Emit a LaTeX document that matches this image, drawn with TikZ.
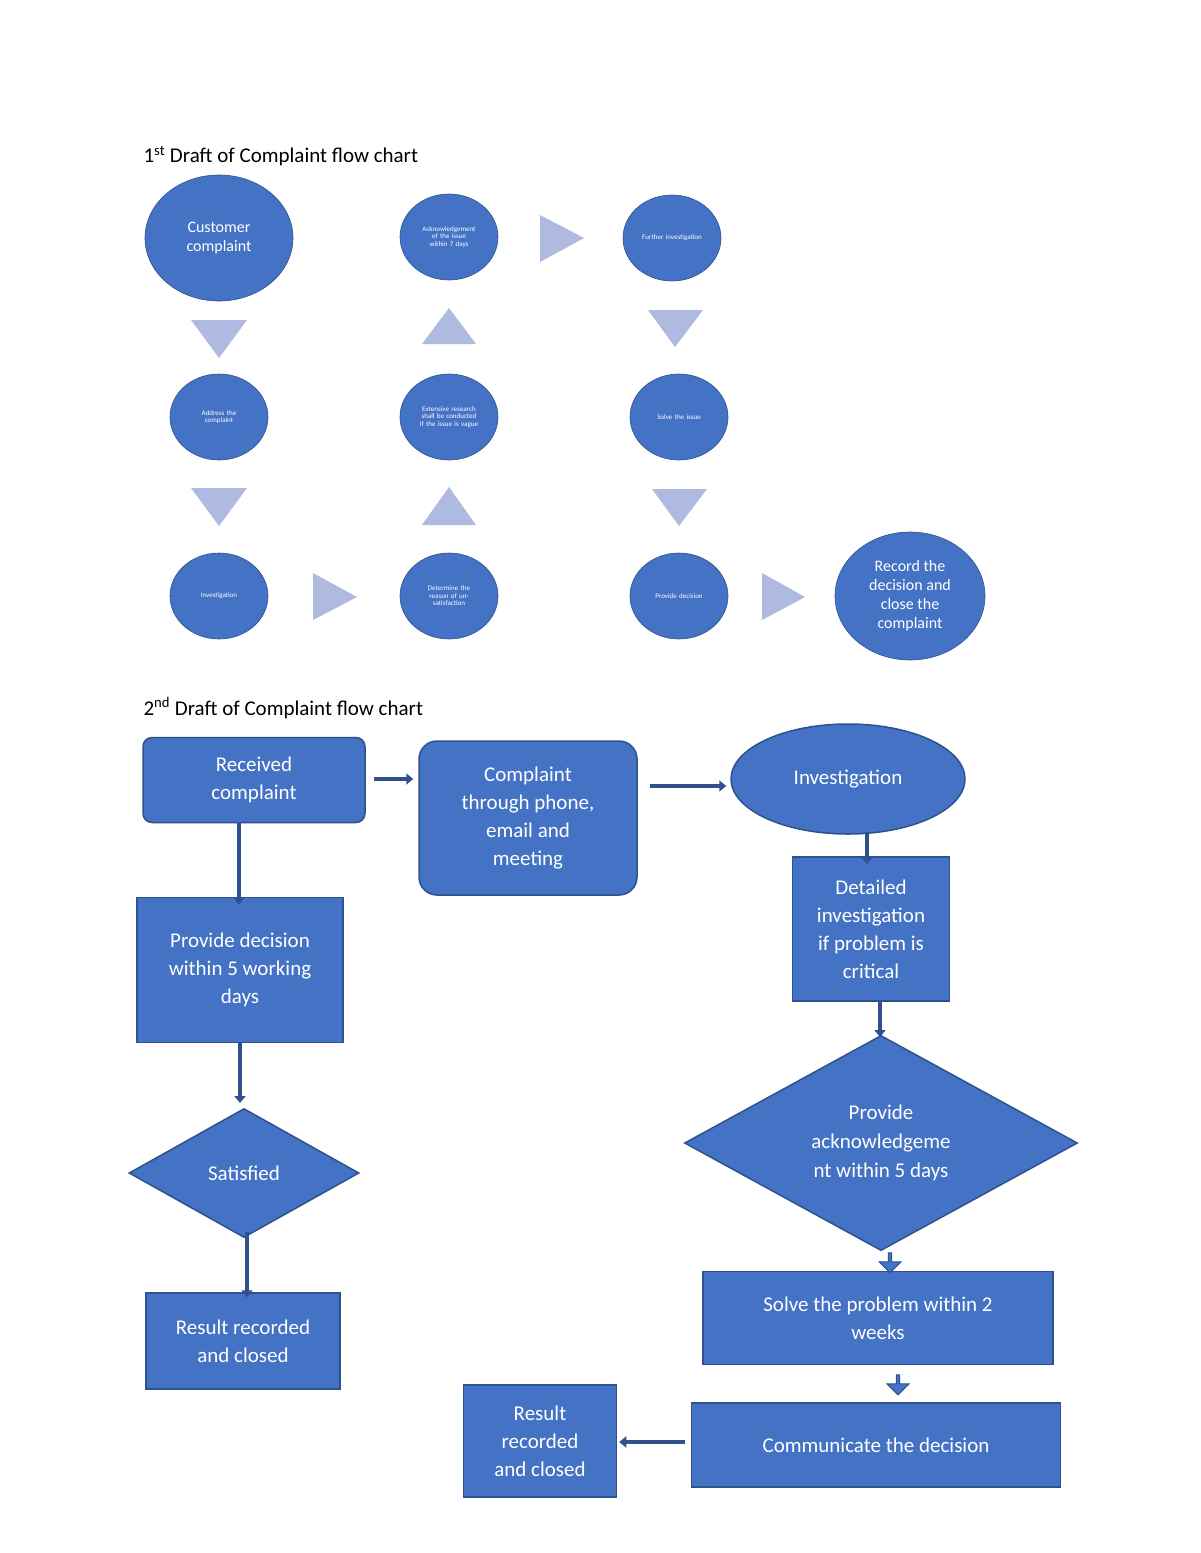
\documentclass[tikz,border=0pt]{standalone}
\usepackage{fontspec}
\setmainfont{Carlito}
\usetikzlibrary{shapes.geometric,shapes.arrows,arrows.meta}
\definecolor{fillb}{HTML}{4472C4}
\definecolor{edgeb}{HTML}{2F528F}
\definecolor{tri}{HTML}{AEBADF}
\begin{document}
\begin{tikzpicture}[x=1pt,y=-1pt,
 ell/.style={ellipse,fill=fillb,draw=edgeb,line width=0.6pt,text=white,align=center,inner sep=0pt},
 sm/.style={ell,minimum width=98pt,minimum height=86pt,font=\fontsize{7}{7.5}\selectfont,text width=60pt},
 box/.style={rectangle,fill=fillb,draw=edgeb,line width=1.5pt,text=white,align=center,font=\fontsize{21}{28}\selectfont},
 dia/.style={diamond,fill=fillb,draw=edgeb,line width=1.5pt,text=white,align=center,font=\fontsize{21}{29}\selectfont,inner sep=0pt},
 arr/.style={draw=edgeb,line width=3.5pt,-{Triangle[length=7pt,width=11pt]}},
 fat/.style={single arrow,fill=fillb,draw=edgeb,line width=1pt,minimum height=20pt,minimum width=22pt,single arrow head extend=3pt,inner sep=0pt,rotate=-90},
 title/.style={anchor=west,font=\fontsize{21}{24}\selectfont}]
\useasboundingbox (0,0) rectangle (1200,1553);
\fill[white] (0,0) rectangle (1200,1553);
% Draft 1
\node[title] (t1) at (140,156) {1\textsuperscript{st} Draft of Complaint flow chart};
\node[ell,minimum width=148pt,minimum height=126pt,font=\fontsize{16}{19}\selectfont] (a1) at (219,238) {Customer\\complaint};
\node[sm] (a2) at (219,417) {Address the complaint};
\node[sm] (a3) at (219,596) {Investigation};
\node[sm] (b3) at (449,596) {Determine the reason of unsatisfaction};
\node[sm] (b2) at (449,417) {Extensive research shall be conducted if the issue is vague};
\node[sm] (b1) at (449,237) {Acknowledgement of the issue within 7 days};
\node[sm] (c1) at (672,238) {Further investigation};
\node[sm] (c2) at (679,417) {Solve the issue};
\node[sm] (c3) at (679,596) {Provide decision};
\node[ell,minimum width=150pt,minimum height=128pt,font=\fontsize{16}{19}\selectfont] (d3) at (910,596) {Record the\\decision and\\close the\\complaint};
\fill[tri] (191,320) -- (247,320) -- (219,358) -- cycle;
\fill[tri] (191,488) -- (247,488) -- (219,526) -- cycle;
\fill[tri] (422,344) -- (476,344) -- (449,308) -- cycle;
\fill[tri] (422,525) -- (476,525) -- (449,487) -- cycle;
\fill[tri] (648,310) -- (703,310) -- (675,347) -- cycle;
\fill[tri] (652,489) -- (707,489) -- (679,526) -- cycle;
\fill[tri] (540,215) -- (584,238) -- (540,262) -- cycle;
\fill[tri] (313,573) -- (357,597) -- (313,620) -- cycle;
\fill[tri] (762,573) -- (805,597) -- (762,620) -- cycle;
% Draft 2
\node[title] (t2) at (140,708) {2\textsuperscript{nd} Draft of Complaint flow chart};
\node[box,rounded corners=9pt,minimum width=222pt,minimum height=85pt] (r1) at (254,780) {Received\\complaint};
\node[box,rounded corners=18pt,minimum width=218pt,minimum height=154pt] (r2) at (528,818) {Complaint\\through phone,\\email and\\meeting};
\node[ell,line width=1.5pt,minimum width=234pt,minimum height=110pt,font=\fontsize{21}{28}\selectfont] (r3) at (848,779) {Investigation};
\node[box,minimum width=157pt,minimum height=144pt] (r4) at (871,929) {Detailed\\investigation\\if problem is\\critical};
\node[box,minimum width=206pt,minimum height=145pt] (l1) at (240,970) {Provide decision\\within 5 working\\days};
\node[dia,minimum width=230pt,minimum height=129pt] (l2) at (244,1173) {Satisfied};
\node[box,minimum width=194pt,minimum height=96pt] (l3) at (243,1341) {Result recorded\\and closed};
\node[dia,minimum width=393pt,minimum height=206pt] (r5) at (881,1143) {Provide\\acknowledgeme\\nt within 5 days};
\node[box,minimum width=350pt,minimum height=93pt] (r6) at (878,1318) {Solve the problem within 2\\weeks};
\node[box,minimum width=369pt,minimum height=84pt] (r7) at (876,1445) {Communicate the decision};
\node[box,minimum width=153pt,minimum height=112pt] (r8) at (540,1441) {Result\\recorded\\and closed};
\draw[arr] (r1.east |- 0,779) ++(8,0) -- ([xshift=-5pt]r2.west |- 0,779);
\draw[arr] ([xshift=12pt]r2.east |- 0,786) -- ([xshift=-4pt]r3.west |- 0,786);
\draw[arr] (867,832) -- ([yshift=-8pt]r4.north -| 867,0);
\draw[arr] (r1.south -| 239,0) -- ([yshift=-8pt]l1.north -| 239,0);
\draw[arr] (l1.south -| 240,0) -- (240,1103);
\draw[arr] (247,1232) -- ([yshift=-5pt]l3.north -| 247,0);
\draw[arr] (r4.south -| 880,0) -- (880,1037);
\draw[arr] ([xshift=-6pt]r7.west |- 0,1442) -- ([xshift=2pt]r8.east |- 0,1442);
\node[fat] (f1) at (890,1262) {};
\node[fat] (f2) at (898,1384) {};
\end{tikzpicture}
\end{document}
